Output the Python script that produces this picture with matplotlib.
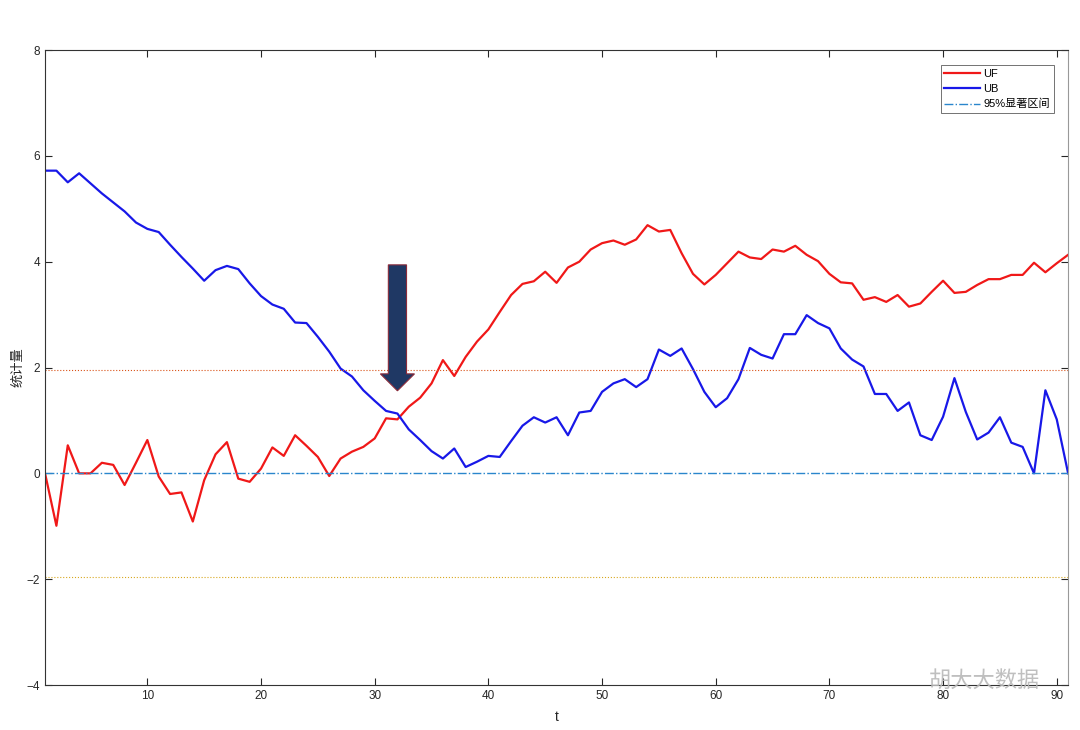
import matplotlib.pyplot as plt

plt.rcParams['font.family'] = ['Liberation Sans', 'Noto Sans CJK SC', 'DejaVu Sans']

t = list(range(1, 92))

uf = [0.00, -0.99, 0.53, 0.00, 0.00, 0.20, 0.16, -0.22, 0.20, 0.63,
      -0.06, -0.39, -0.36, -0.91, -0.13, 0.36, 0.59, -0.10, -0.16, 0.09,
      0.49, 0.33, 0.72, 0.52, 0.31, -0.05, 0.28, 0.41, 0.50, 0.66,
      1.04, 1.02, 1.26, 1.43, 1.70, 2.14, 1.84, 2.20, 2.49, 2.72,
      3.05, 3.37, 3.58, 3.63, 3.81, 3.60, 3.89, 4.00, 4.23, 4.35,
      4.40, 4.32, 4.42, 4.69, 4.57, 4.60, 4.16, 3.77, 3.57, 3.75,
      3.97, 4.19, 4.08, 4.05, 4.23, 4.19, 4.30, 4.13, 4.01, 3.77,
      3.61, 3.59, 3.28, 3.33, 3.24, 3.37, 3.15, 3.21, 3.43, 3.64,
      3.41, 3.43, 3.56, 3.67, 3.67, 3.75, 3.75, 3.98, 3.80, 3.97,
      4.13]

ub = [5.72, 5.72, 5.50, 5.67, 5.48, 5.29, 5.12, 4.95, 4.74, 4.62,
      4.56, 4.32, 4.09, 3.87, 3.64, 3.84, 3.92, 3.86, 3.59, 3.35,
      3.19, 3.11, 2.85, 2.84, 2.58, 2.30, 1.98, 1.83, 1.57, 1.37,
      1.18, 1.13, 0.83, 0.63, 0.42, 0.28, 0.47, 0.12, 0.22, 0.33,
      0.31, 0.61, 0.90, 1.06, 0.96, 1.06, 0.72, 1.15, 1.18, 1.54,
      1.70, 1.78, 1.63, 1.78, 2.34, 2.22, 2.36, 1.97, 1.54, 1.25,
      1.42, 1.78, 2.37, 2.24, 2.17, 2.63, 2.63, 2.99, 2.84, 2.74,
      2.36, 2.15, 2.02, 1.50, 1.50, 1.18, 1.34, 0.72, 0.63, 1.07,
      1.80, 1.16, 0.64, 0.77, 1.06, 0.58, 0.50, 0.00, 1.57, 1.02,
      0.00]

crit = 1.96

fig = plt.figure(figsize=(10.8, 7.3), dpi=100)
ax = fig.add_axes([0.0417, 0.0616, 0.9473, 0.8699])

ax.plot(t, uf, color='#f01818', lw=1.6, label='UF')
ax.plot(t, ub, color='#1818e8', lw=1.6, label='UB')
ax.plot([t[0], t[-1]], [0, 0], color='#2a86cc', lw=1.0, ls='-.', label='95%显著区间')
ax.plot([t[0], t[-1]], [crit, crit], color='#d95319', lw=0.8, ls=':')
ax.plot([t[0], t[-1]], [-crit, -crit], color='#d8a820', lw=0.8, ls=':')

# arrow marking the crossing point
ax.arrow(32, 3.94, 0, 1.56 - 3.94, width=1.6, head_width=3.0, head_length=0.32,
         length_includes_head=True, fc='#1f3864', ec='#8b2b3a', lw=0.8, zorder=5)

ax.set_xlim(1, 91)
ax.set_ylim(-4, 8)
ax.set_xticks(range(10, 91, 10))
ax.set_yticks(range(-4, 9, 2))
ax.tick_params(direction='in', length=5, labelsize=8.5, colors='#262626',
               top=True, right=True)
for side in ['left', 'bottom', 'top']:
    ax.spines[side].set_color('#333333')
ax.spines['right'].set_color('#999999')

ax.set_xlabel('t', fontsize=10, color='#262626', labelpad=6)
ax.set_ylabel('统计量', fontsize=9.5, color='#262626', labelpad=2,
              family=['Noto Sans CJK SC'])

leg = ax.legend(loc='upper right', fontsize=8, frameon=True, fancybox=False,
                borderpad=0.35, handlelength=3.2, labelspacing=0.45,
                handletextpad=0.3, bbox_to_anchor=(0.9915, 0.985))
leg.get_frame().set_edgecolor('#333333')
leg.get_frame().set_linewidth(0.6)

fig.text(0.963, 0.068, '胡大大数据', fontsize=16, color='#b8b8b8', ha='right',
         va='center', family=['Noto Sans CJK SC'], alpha=0.9)

fig.savefig('out.png', dpi=100)
